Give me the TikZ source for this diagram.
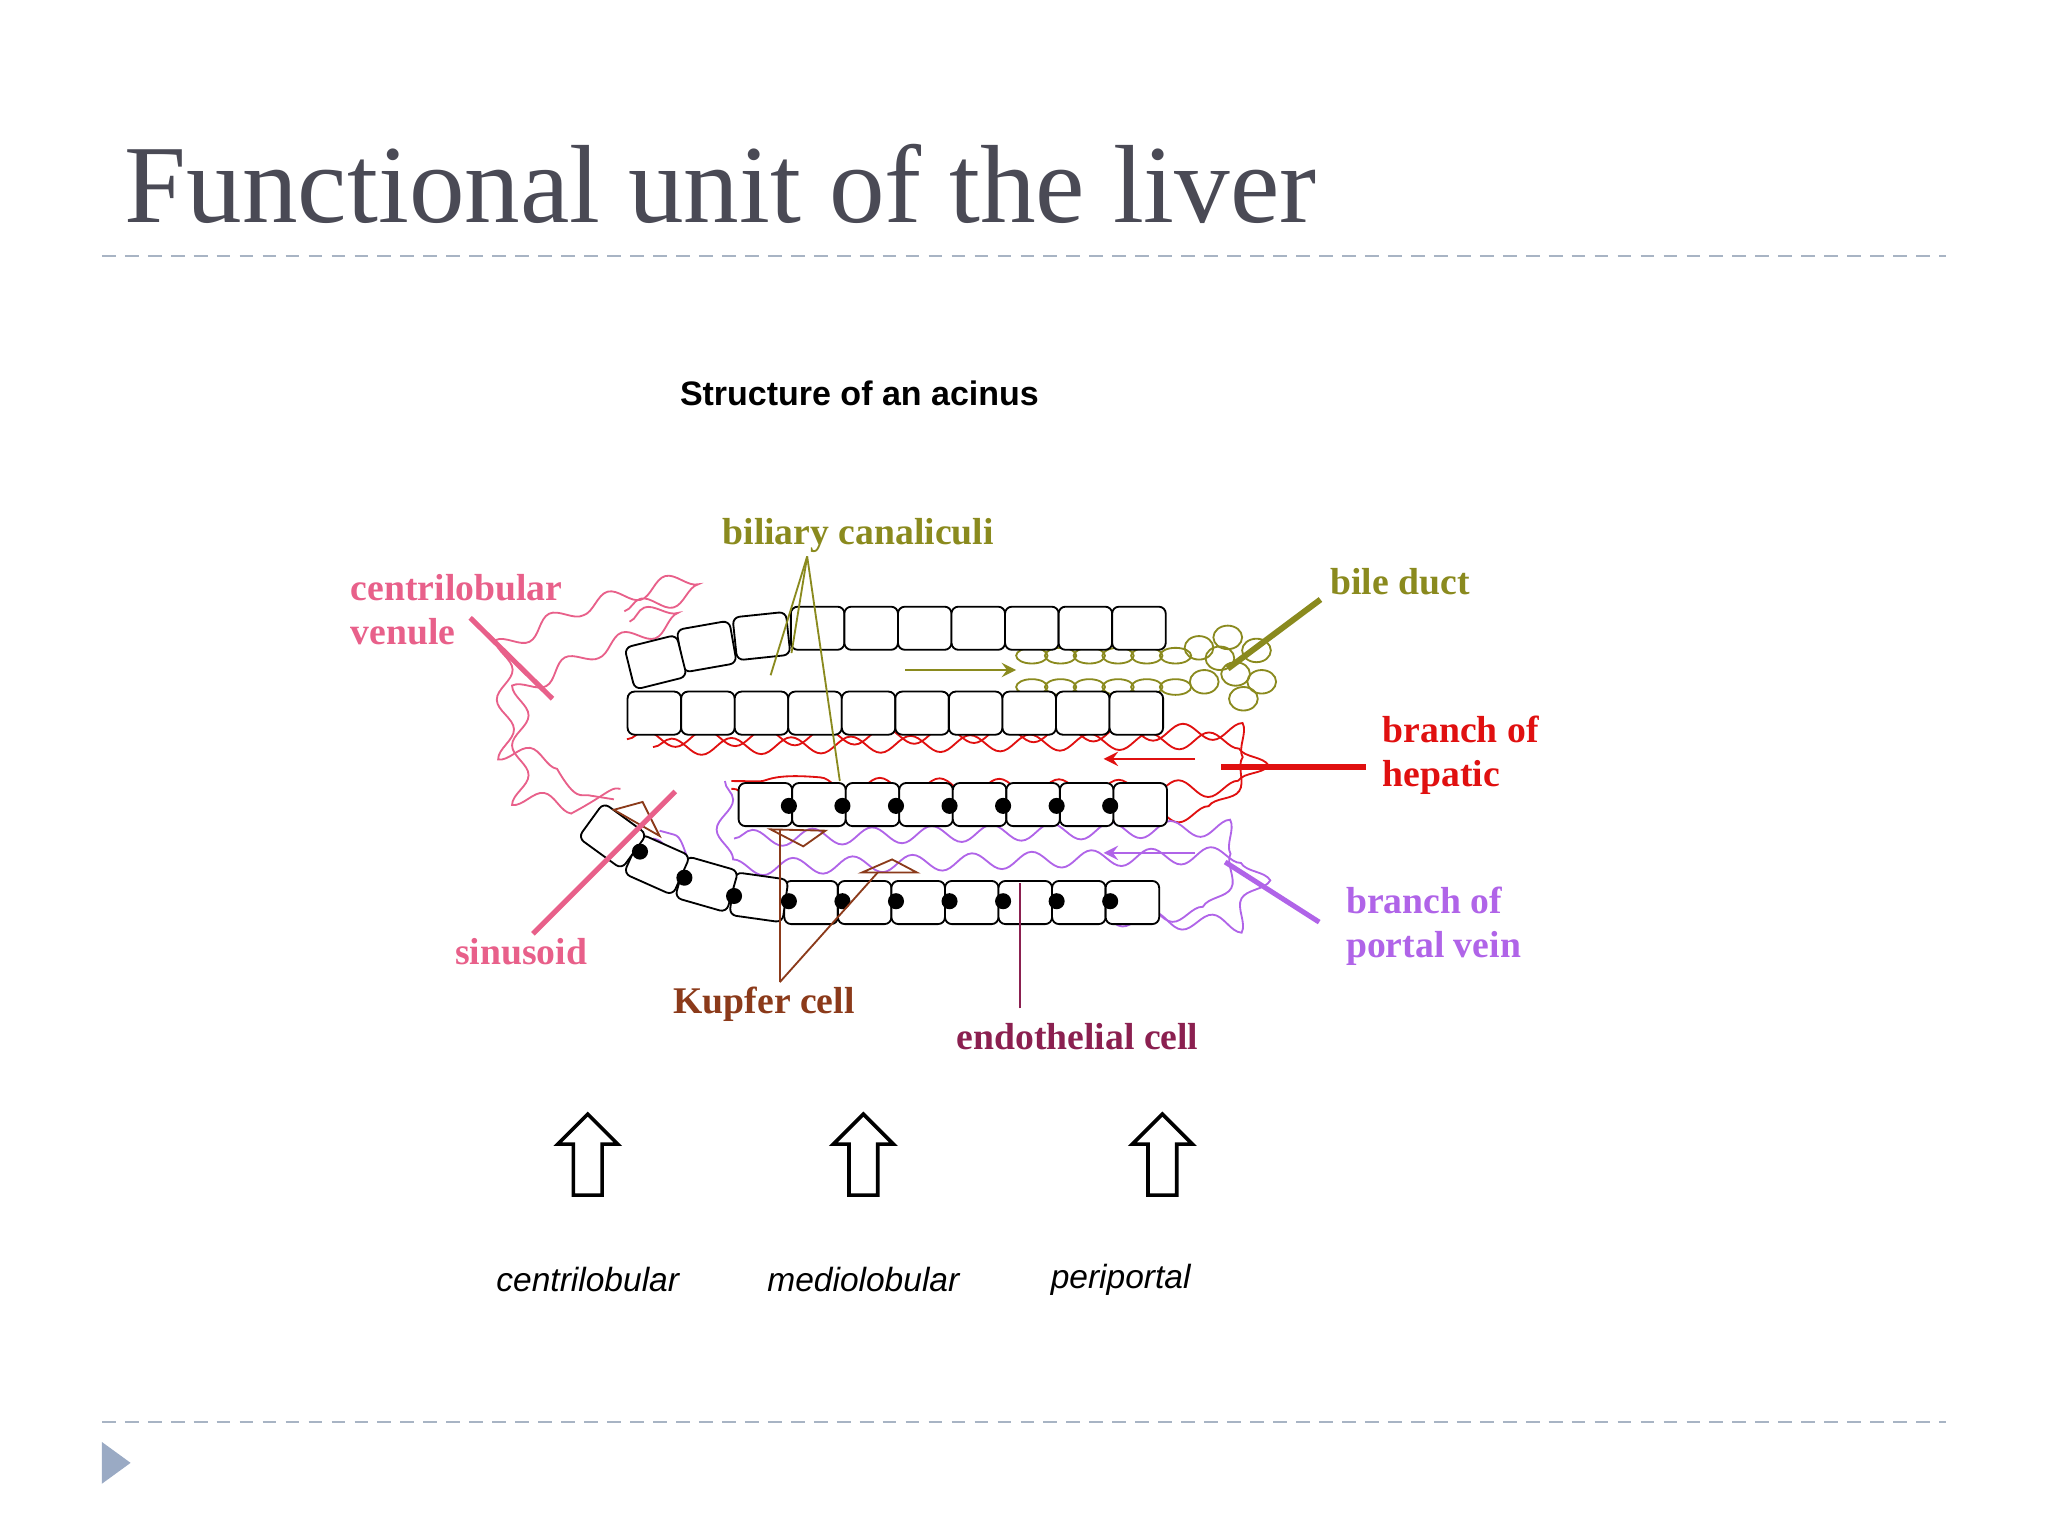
\documentclass[tikz,border=0pt]{standalone}
\usepackage{fontspec}
\setmainfont{Liberation Serif}
\setsansfont{Liberation Sans}
\usetikzlibrary{decorations.pathmorphing}
\definecolor{titlegray}{HTML}{4A4A55}
\definecolor{rulegray}{HTML}{A8B4C4}
\definecolor{olive}{HTML}{8A8A1E}
\definecolor{pinkv}{HTML}{E8608A}
\definecolor{redh}{HTML}{E01010}
\definecolor{purplep}{HTML}{B064E8}
\definecolor{brownk}{HTML}{8B3A1A}
\definecolor{maroone}{HTML}{8B2050}
\definecolor{marker}{HTML}{9AAAC4}
\begin{document}
\begin{tikzpicture}[x=0.01cm,y=-0.01cm,thin]
    %
    % `cell' is one hepatocyte, `dot' an endothelial nucleus.
    \tikzset{cell/.style={draw,fill=white,minimum width=0.41cm,minimum height=0.33cm,rounded corners=1.5pt,inner sep=0pt}}
    \tikzset{dot/.style={fill,circle,minimum size=3.5pt,inner sep=0pt}}
    \tikzset{lab/.style={font=\fontsize{8.2}{9.5}\selectfont\bfseries,align=left,inner sep=0pt}}
    \tikzset{zone/.style={font=\sffamily\itshape\fontsize{7.3}{9}\selectfont}}
    \tikzset{wavy/.style={decorate,decoration={snake,amplitude=1.8pt,segment length=13pt}}}
    \tikzset{hollow/.style={draw,fill=white,line width=0.8pt}}
    \useasboundingbox (0,0) rectangle (1568,1176);
    %
    % Title and rules
    \node[anchor=base west,text=titlegray,font=\fontsize{24.2}{27}\selectfont,inner sep=0pt] (title) at (95,170) {Functional unit of the liver};
    \draw[rulegray,dash pattern=on 3pt off 2pt] (78,196) -- (1490,196);
    \draw[rulegray,dash pattern=on 3pt off 2pt] (78,1089) -- (1490,1089);
    \fill[marker] (78,1104) -- (100,1120) -- (78,1136) -- cycle;
    \node[font=\sffamily\bfseries\fontsize{7.4}{9}\selectfont] (head) at (658,301) {Structure of an acinus};
    %
    % Vessels
    \draw[pinkv,wavy] (478,468) -- (530,455) -- (445,478) -- (380,510) -- (382,598) -- (470,612);
    \draw[pinkv,wavy] (482,476) -- (515,464) -- (452,486) -- (392,518) -- (392,592) -- (475,604);
    \draw[redh,wavy] (480,566) -- (942,560) -- (956,585) -- (940,608) -- (560,604);
    \draw[redh,wavy] (500,572) -- (935,567) -- (946,585) -- (935,601) -- (560,598);
    \draw[purplep,wavy] (555,598) -- (555,636) -- (945,626) -- (962,655) -- (945,686) -- (600,668) -- (500,642);
    \draw[purplep,wavy] (562,642) -- (938,634) -- (950,655) -- (938,678) -- (600,662) -- (505,636);
    %
    % Biliary canaliculi and bile duct
    \foreach \x in {790,812,...,900} {
        \draw[olive] (\x,502) ellipse (12 and 6);
        \draw[olive] (\x,526) ellipse (12 and 6);
    }
    \foreach \x/\y in {918/496,940/488,962/498,922/522,946/516,966/522,952/535,934/504} {
        \draw[olive] (\x,\y) ellipse (11 and 9);
    }
    %
    % Cell rows
    \foreach \x in {626,667,...,872} \node[cell] at (\x,481) {};
    \node[cell,rotate=6] at (583,487) {};
    \node[cell,rotate=10] at (541,495) {};
    \node[cell,rotate=14] at (502,507) {};
    \foreach \x in {501,542,...,873} \node[cell] at (\x,546) {};
    \foreach \x in {586,627,...,874} \node[cell] at (\x,616) {};
    \foreach \x in {621,662,...,872} \node[cell] at (\x,691) {};
    \node[cell,rotate=-8] at (581,687) {};
    \node[cell,rotate=-16] at (541,677) {};
    \node[cell,rotate=-24] at (503,662) {};
    \node[cell,rotate=-36] at (469,640) {};
    \foreach \x in {604,645,...,860} \node[dot] at (\x,617) {};
    \foreach \x in {604,645,...,860} \node[dot] at (\x,690) {};
    \node[dot] at (490,652) {};
    \node[dot] at (524,672) {};
    \node[dot] at (562,686) {};
    %
    % Kupfer cells
    \draw[brownk] (590,635) -- (632,636) -- (615,648) -- cycle;
    \draw[brownk] (660,668) -- (683,658) -- (702,668) -- cycle;
    \draw[brownk] (470,620) -- (492,614) -- (505,640) -- cycle;
    %
    % Flow arrows
    \draw[olive,-stealth] (693,513) -- (778,513);
    \draw[redh,-stealth] (915,581) -- (845,581);
    \draw[purplep,-stealth] (915,653) -- (845,653);
    %
    % Labels
    \node[lab,text=olive] (bc) at (657,410) {biliary canaliculi};
    \node[lab,text=pinkv,anchor=west] (cv) at (268,467) {centrilobular\\venule};
    \node[lab,text=olive,anchor=west] (bd) at (1018,445) {bile duct};
    \node[lab,text=redh,anchor=west] (bh) at (1058,578) {branch of\\hepatic};
    \node[lab,text=purplep,anchor=west] (bp) at (1030,709) {branch of\\portal vein};
    \node[lab,text=pinkv] (si) at (399,729) {sinusoid};
    \node[lab,text=brownk] (kc) at (585,769) {Kupfer cell};
    \node[lab,text=maroone] (ec) at (825,794) {endothelial cell};
    %
    % Leader lines
    \coordinate (bcf) at (618,426);
    \draw[olive] (bcf) -- (590,517);
    \draw[olive] (bcf) -- (606,500);
    \draw[olive] (bcf) -- (643,598);
    \draw[olive,line width=1.3pt] (1011,459) -- (940,512);
    \draw[pinkv,line width=1.1pt] (360,473) -- (423,535);
    \draw[pinkv,line width=1.1pt] (408,715) -- (517,606);
    \draw[redh,line width=1.3pt] (1046,587) -- (935,587);
    \draw[purplep,line width=1.1pt] (1010,706) -- (938,660);
    \draw[brownk] (597,752) -- (597,635);
    \draw[brownk] (597,752) -- (672,668);
    \draw[maroone] (781,772) -- (781,676);
    %
    % Zones
    \foreach \x/\name/\txt/\tx in {450/cz/centrilobular/450,661/mz/mediolobular/661,890/pz/periportal/858} {
        \draw[hollow] (\x-11,915) -- (\x-11,876) -- (\x-23,876) -- (\x,853) -- (\x+23,876) -- (\x+11,876) -- (\x+11,915) -- cycle;
        \node[zone] (\name) at (\tx,980) {\txt};
    }
\end{tikzpicture}
\end{document}
